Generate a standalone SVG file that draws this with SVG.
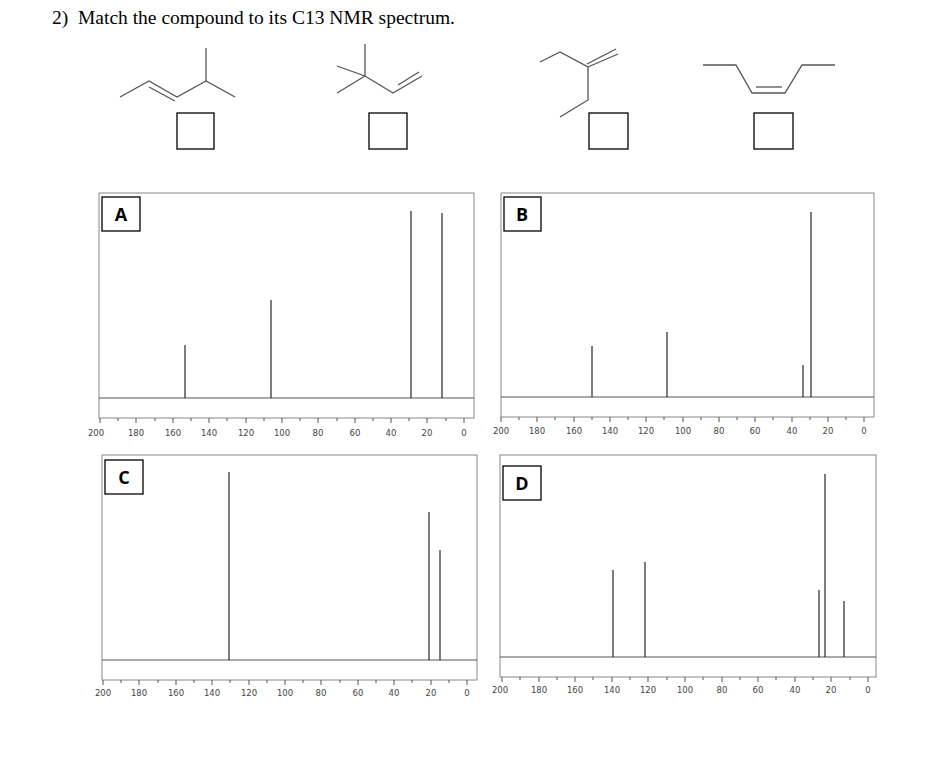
<svg xmlns="http://www.w3.org/2000/svg" width="940" height="771" viewBox="0 0 940 771">
<style>
.m{fill:none;stroke:#555;stroke-width:1.3}
.bx{fill:#fff;stroke:#000;stroke-width:1.3}
.fr{fill:#fff;stroke:#888;stroke-width:1}
.pk{stroke:#111;stroke-width:1.1}
.tk{stroke:#555;stroke-width:1}
.ax{font-family:"DejaVu Sans",sans-serif;font-size:8.5px;fill:#444;text-anchor:middle}
.lb{font-family:"Open Sans","Liberation Sans",sans-serif;font-size:18px;font-weight:bold;fill:#000;text-anchor:middle}
</style>
<rect width="940" height="771" fill="#fff"/>
<text x="52" y="24" font-family="Liberation Serif,serif" font-size="19.5" xml:space="preserve">2)  Match the compound to its C13 NMR spectrum.</text>
<g id="mol1"><polyline class="m" points="120,97 149,81 177,97 206,81 235,97"/><line class="m" x1="206" y1="81" x2="206" y2="48"/><line class="m" x1="149" y1="87" x2="175" y2="101"/><rect class="bx" x="177" y="113" width="37" height="36"/></g>
<g id="mol2"><polyline class="m" points="337,66 365,76 393,93 422,76"/><line class="m" x1="365" y1="76" x2="365" y2="44"/><line class="m" x1="365" y1="76" x2="337" y2="93"/><line class="m" x1="398" y1="85" x2="419" y2="72"/><rect class="bx" x="369" y="113" width="38" height="36"/></g>
<g id="mol3"><polyline class="m" points="540,62 560,52 588,67 588,100 560,117"/><line class="m" x1="588" y1="67" x2="618" y2="54"/><line class="m" x1="587" y1="64" x2="616" y2="49"/><rect class="bx" x="589" y="113" width="39" height="36"/></g>
<g id="mol4"><polyline class="m" points="703,65 736,65 752,93 785,93 802,65 835,65"/><line class="m" x1="756" y1="87" x2="782" y2="87"/><rect class="bx" x="754" y="113" width="39" height="36"/></g>

<g id="specA">
<rect class="fr" x="99" y="193" width="375" height="225"/>
<line class="tk" x1="99" y1="398" x2="474" y2="398"/>
<g class="pk"><line x1="185" y1="398" x2="185" y2="345"/><line x1="271" y1="398" x2="271" y2="300"/><line x1="411" y1="398" x2="411" y2="211"/><line x1="442" y1="398" x2="442" y2="213"/></g>
<rect class="bx" x="102" y="197" width="38" height="34"/><text class="lb" x="121" y="221">A</text>
<g class="tk"><path d="M100,418v5M118,418v3M136,418v5M155,418v3M173,418v5M191,418v3M209,418v5M227,418v3M246,418v5M264,418v3M282,418v5M300,418v3M318,418v5M337,418v3M355,418v5M373,418v3M391,418v5M409,418v3M427,418v5M446,418v3M464,418v5"/></g>
<g class="ax"><text x="96" y="436">200</text><text x="136" y="436">180</text><text x="173" y="436">160</text><text x="209" y="436">140</text><text x="246" y="436">120</text><text x="282" y="436">100</text><text x="318" y="436">80</text><text x="355" y="436">60</text><text x="391" y="436">40</text><text x="427" y="436">20</text><text x="464" y="436">0</text></g>
</g>

<g id="specB">
<rect class="fr" x="501" y="193" width="373" height="224"/>
<line class="tk" x1="501" y1="397" x2="874" y2="397"/>
<g class="pk"><line x1="592" y1="397" x2="592" y2="346"/><line x1="667" y1="397" x2="667" y2="332"/><line x1="803" y1="397" x2="803" y2="365"/><line x1="811" y1="397" x2="811" y2="212"/></g>
<rect class="bx" x="504" y="197" width="37" height="34"/><text class="lb" x="522" y="221">B</text>
<g class="tk"><path d="M501,417v5M519,417v3M537,417v5M555,417v3M574,417v5M592,417v3M610,417v5M628,417v3M646,417v5M664,417v3M683,417v5M701,417v3M719,417v5M737,417v3M755,417v5M773,417v3M792,417v5M810,417v3M828,417v5M846,417v3M864,417v5"/></g>
<g class="ax"><text x="501" y="434">200</text><text x="537" y="434">180</text><text x="574" y="434">160</text><text x="610" y="434">140</text><text x="646" y="434">120</text><text x="683" y="434">100</text><text x="719" y="434">80</text><text x="755" y="434">60</text><text x="792" y="434">40</text><text x="828" y="434">20</text><text x="864" y="434">0</text></g>
</g>

<g id="specC">
<rect class="fr" x="102" y="455" width="375" height="225"/>
<line class="tk" x1="102" y1="660" x2="477" y2="660"/>
<g class="pk"><line x1="229" y1="660" x2="229" y2="472"/><line x1="429" y1="660" x2="429" y2="512"/><line x1="440" y1="660" x2="440" y2="550"/></g>
<rect class="bx" x="105" y="460" width="38" height="34"/><text class="lb" x="124" y="484">C</text>
<g class="tk"><path d="M103,680v5M121,680v3M139,680v5M158,680v3M176,680v5M194,680v3M212,680v5M230,680v3M249,680v5M267,680v3M285,680v5M303,680v3M321,680v5M340,680v3M358,680v5M376,680v3M394,680v5M412,680v3M431,680v5M449,680v3M467,680v5"/></g>
<g class="ax"><text x="103" y="696">200</text><text x="139" y="696">180</text><text x="176" y="696">160</text><text x="212" y="696">140</text><text x="249" y="696">120</text><text x="285" y="696">100</text><text x="321" y="696">80</text><text x="358" y="696">60</text><text x="394" y="696">40</text><text x="431" y="696">20</text><text x="467" y="696">0</text></g>
</g>

<g id="specD">
<rect class="fr" x="500" y="455" width="376" height="222"/>
<line class="tk" x1="500" y1="657" x2="876" y2="657"/>
<g class="pk"><line x1="613" y1="657" x2="613" y2="570"/><line x1="645" y1="657" x2="645" y2="562"/><line x1="819" y1="657" x2="819" y2="590"/><line x1="825" y1="657" x2="825" y2="474"/><line x1="844" y1="657" x2="844" y2="601"/></g>
<rect class="bx" x="503" y="466" width="38" height="34"/><text class="lb" x="522" y="490">D</text>
<g class="tk"><path d="M502,677v5M520,677v3M539,677v5M557,677v3M575,677v5M593,677v3M612,677v5M630,677v3M648,677v5M667,677v3M685,677v5M703,677v3M722,677v5M740,677v3M758,677v5M776,677v3M795,677v5M813,677v3M831,677v5M850,677v3M868,677v5"/></g>
<g class="ax"><text x="500" y="693">200</text><text x="539" y="693">180</text><text x="575" y="693">160</text><text x="612" y="693">140</text><text x="648" y="693">120</text><text x="685" y="693">100</text><text x="722" y="693">80</text><text x="758" y="693">60</text><text x="795" y="693">40</text><text x="831" y="693">20</text><text x="868" y="693">0</text></g>
</g>
</svg>
